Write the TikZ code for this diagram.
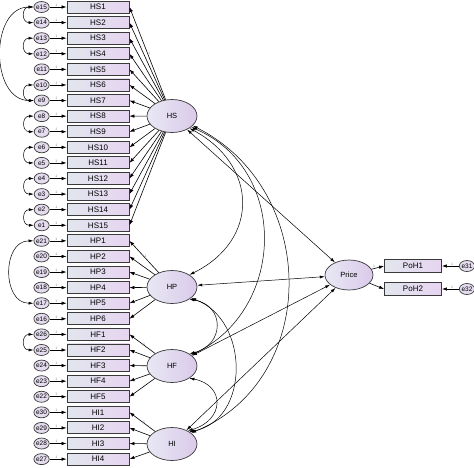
\documentclass[tikz,border=0pt]{standalone}
\usepackage{fontspec}
\setmainfont{Liberation Sans}
\usetikzlibrary{shapes.geometric, arrows.meta, positioning}

\definecolor{boxleft}{HTML}{E2E6EE}
\definecolor{boxright}{HTML}{E6D4F0}
\definecolor{latleft}{HTML}{E8E8F4}
\definecolor{latright}{HTML}{DACAEA}
\definecolor{errfill}{HTML}{E4DCEE}
\definecolor{edge}{HTML}{3A3A3A}

\begin{document}
\begin{tikzpicture}[
        x=1pt, y=-1pt,
        % Global Styles
        indic/.style={rectangle, draw=edge, line width=0.9pt, left color=boxleft, right color=boxright, minimum width=62pt, minimum height=12pt, inner sep=0pt, font=\fontsize{8}{8}\selectfont},
        latent/.style={ellipse, draw=edge, line width=0.7pt, left color=latleft, right color=latright, minimum width=50pt, minimum height=33pt, inner sep=0pt, font=\fontsize{7.5}{8}\selectfont},
        err/.style={ellipse, draw=edge, line width=0.7pt, fill=errfill, minimum width=15pt, minimum height=11pt, inner sep=0pt, font=\fontsize{6.5}{7}\selectfont},
        arrow/.style={line width=0.6pt, -{Latex[length=5pt,width=3.5pt]}},
        cov/.style={line width=0.5pt, {Latex[length=5pt,width=3pt]}-{Latex[length=5pt,width=3pt]}},
        one/.style={font=\fontsize{3.5}{4}\selectfont, inner sep=0.5pt, text=gray}
    ]
    \useasboundingbox (0,0) rectangle (474,467);

    % --- Observed items and their errors ---
    \foreach \lab/\err [count=\i from 0] in {HS1/e15, HS2/e14, HS3/e13, HS4/e12, HS5/e11, HS6/e10, HS7/e9, HS8/e8, HS9/e7, HS10/e6, HS11/e5, HS12/e4, HS13/e3, HS14/e2, HS15/e1, HP1/e21, HP2/e20, HP3/e19, HP4/e18, HP5/e17, HP6/e16, HF1/e26, HF2/e25, HF3/e24, HF4/e23, HF5/e22, HI1/e30, HI2/e29, HI3/e28, HI4/e27} {
      \node (\lab) [indic] at (98,{7+15.59*\i}) {\lab};
      \node (\err) [err, left=17pt of \lab] {\err};
      \draw [arrow] (\err) -- node[one, above, pos=0.4] {1} (\lab);
    }

    % --- Latent constructs ---
    \node (HS) [latent] at (172,116) {HS};
    \node (HP) [latent] at (172,287) {HP};
    \node (HF) [latent] at (172,366) {HF};
    \node (HI) [latent] at (172,444) {HI};
    \node (Price) [latent, minimum width=48pt, minimum height=30pt] at (349,275) {Price};

    % --- Price indicators ---
    \node (PoH1) [indic, minimum width=57pt, minimum height=13pt] at (413,266) {PoH1};
    \node (PoH2) [indic, minimum width=57pt, minimum height=13pt] at (413,289) {PoH2};
    \node (e31) [err, right=17pt of PoH1] {e31};
    \node (e32) [err, right=17pt of PoH2] {e32};

    % --- LOADINGS ---
    \draw [arrow] (HS) -- node[one, pos=0.5, right] {1} (HS1.east);
    \foreach \k in {2,...,15} \draw [arrow] (HS) -- (HS\k.east);
    \draw [arrow] (HP) -- node[one, pos=0.5, right] {1} (HP1.east);
    \foreach \k in {2,...,6} \draw [arrow] (HP) -- (HP\k.east);
    \draw [arrow] (HF) -- node[one, pos=0.5, right] {1} (HF1.east);
    \foreach \k in {2,...,5} \draw [arrow] (HF) -- (HF\k.east);
    \draw [arrow] (HI) -- node[one, pos=0.5, right] {1} (HI1.east);
    \foreach \k in {2,...,4} \draw [arrow] (HI) -- (HI\k.east);

    \draw [arrow] (Price) -- node[one, above, pos=0.2] {1} (PoH1.west);
    \draw [arrow] (Price) -- (PoH2.west);
    \draw [arrow] (e31) -- node[one, above, pos=0.4] {1} (PoH1);
    \draw [arrow] (e32) -- node[one, above, pos=0.4] {1} (PoH2);

    % --- Error covariances ---
    \foreach \a/\b in {e15/e14, e13/e12, e10/e9, e8/e7, e6/e5, e4/e3, e2/e1, e26/e25}
      \draw [cov] (\a.west) to[out=180, in=180, looseness=2] (\b.west);
    \draw [cov] (e15.west) to[out=180, in=180, looseness=1.2] (e9.west);
    \draw [cov] (e21.west) to[out=180, in=180, looseness=1.3] (e17.west);

    % --- Construct covariances ---
    \draw [cov] (HS.-35) .. controls (258,165) and (260,240) .. (HP.35);
    \draw [cov] (HS.-30) .. controls (290,170) and (285,310) .. (HF.30);
    \draw [cov] (HS.-25) .. controls (320,190) and (320,380) .. (HI.30);
    \draw [cov] (HP.-35) .. controls (225,305) and (225,345) .. (HF.35);
    \draw [cov] (HP.-30) .. controls (250,320) and (250,420) .. (HI.35);
    \draw [cov] (HF.-35) .. controls (225,385) and (225,420) .. (HI.40);

    % Paths to Price
    \draw [cov] (HS) -- (Price);
    \draw [cov] (HP) -- (Price);
    \draw [cov] (HF) -- (Price);
    \draw [cov] (HI) -- (Price);

\end{tikzpicture}
\end{document}
